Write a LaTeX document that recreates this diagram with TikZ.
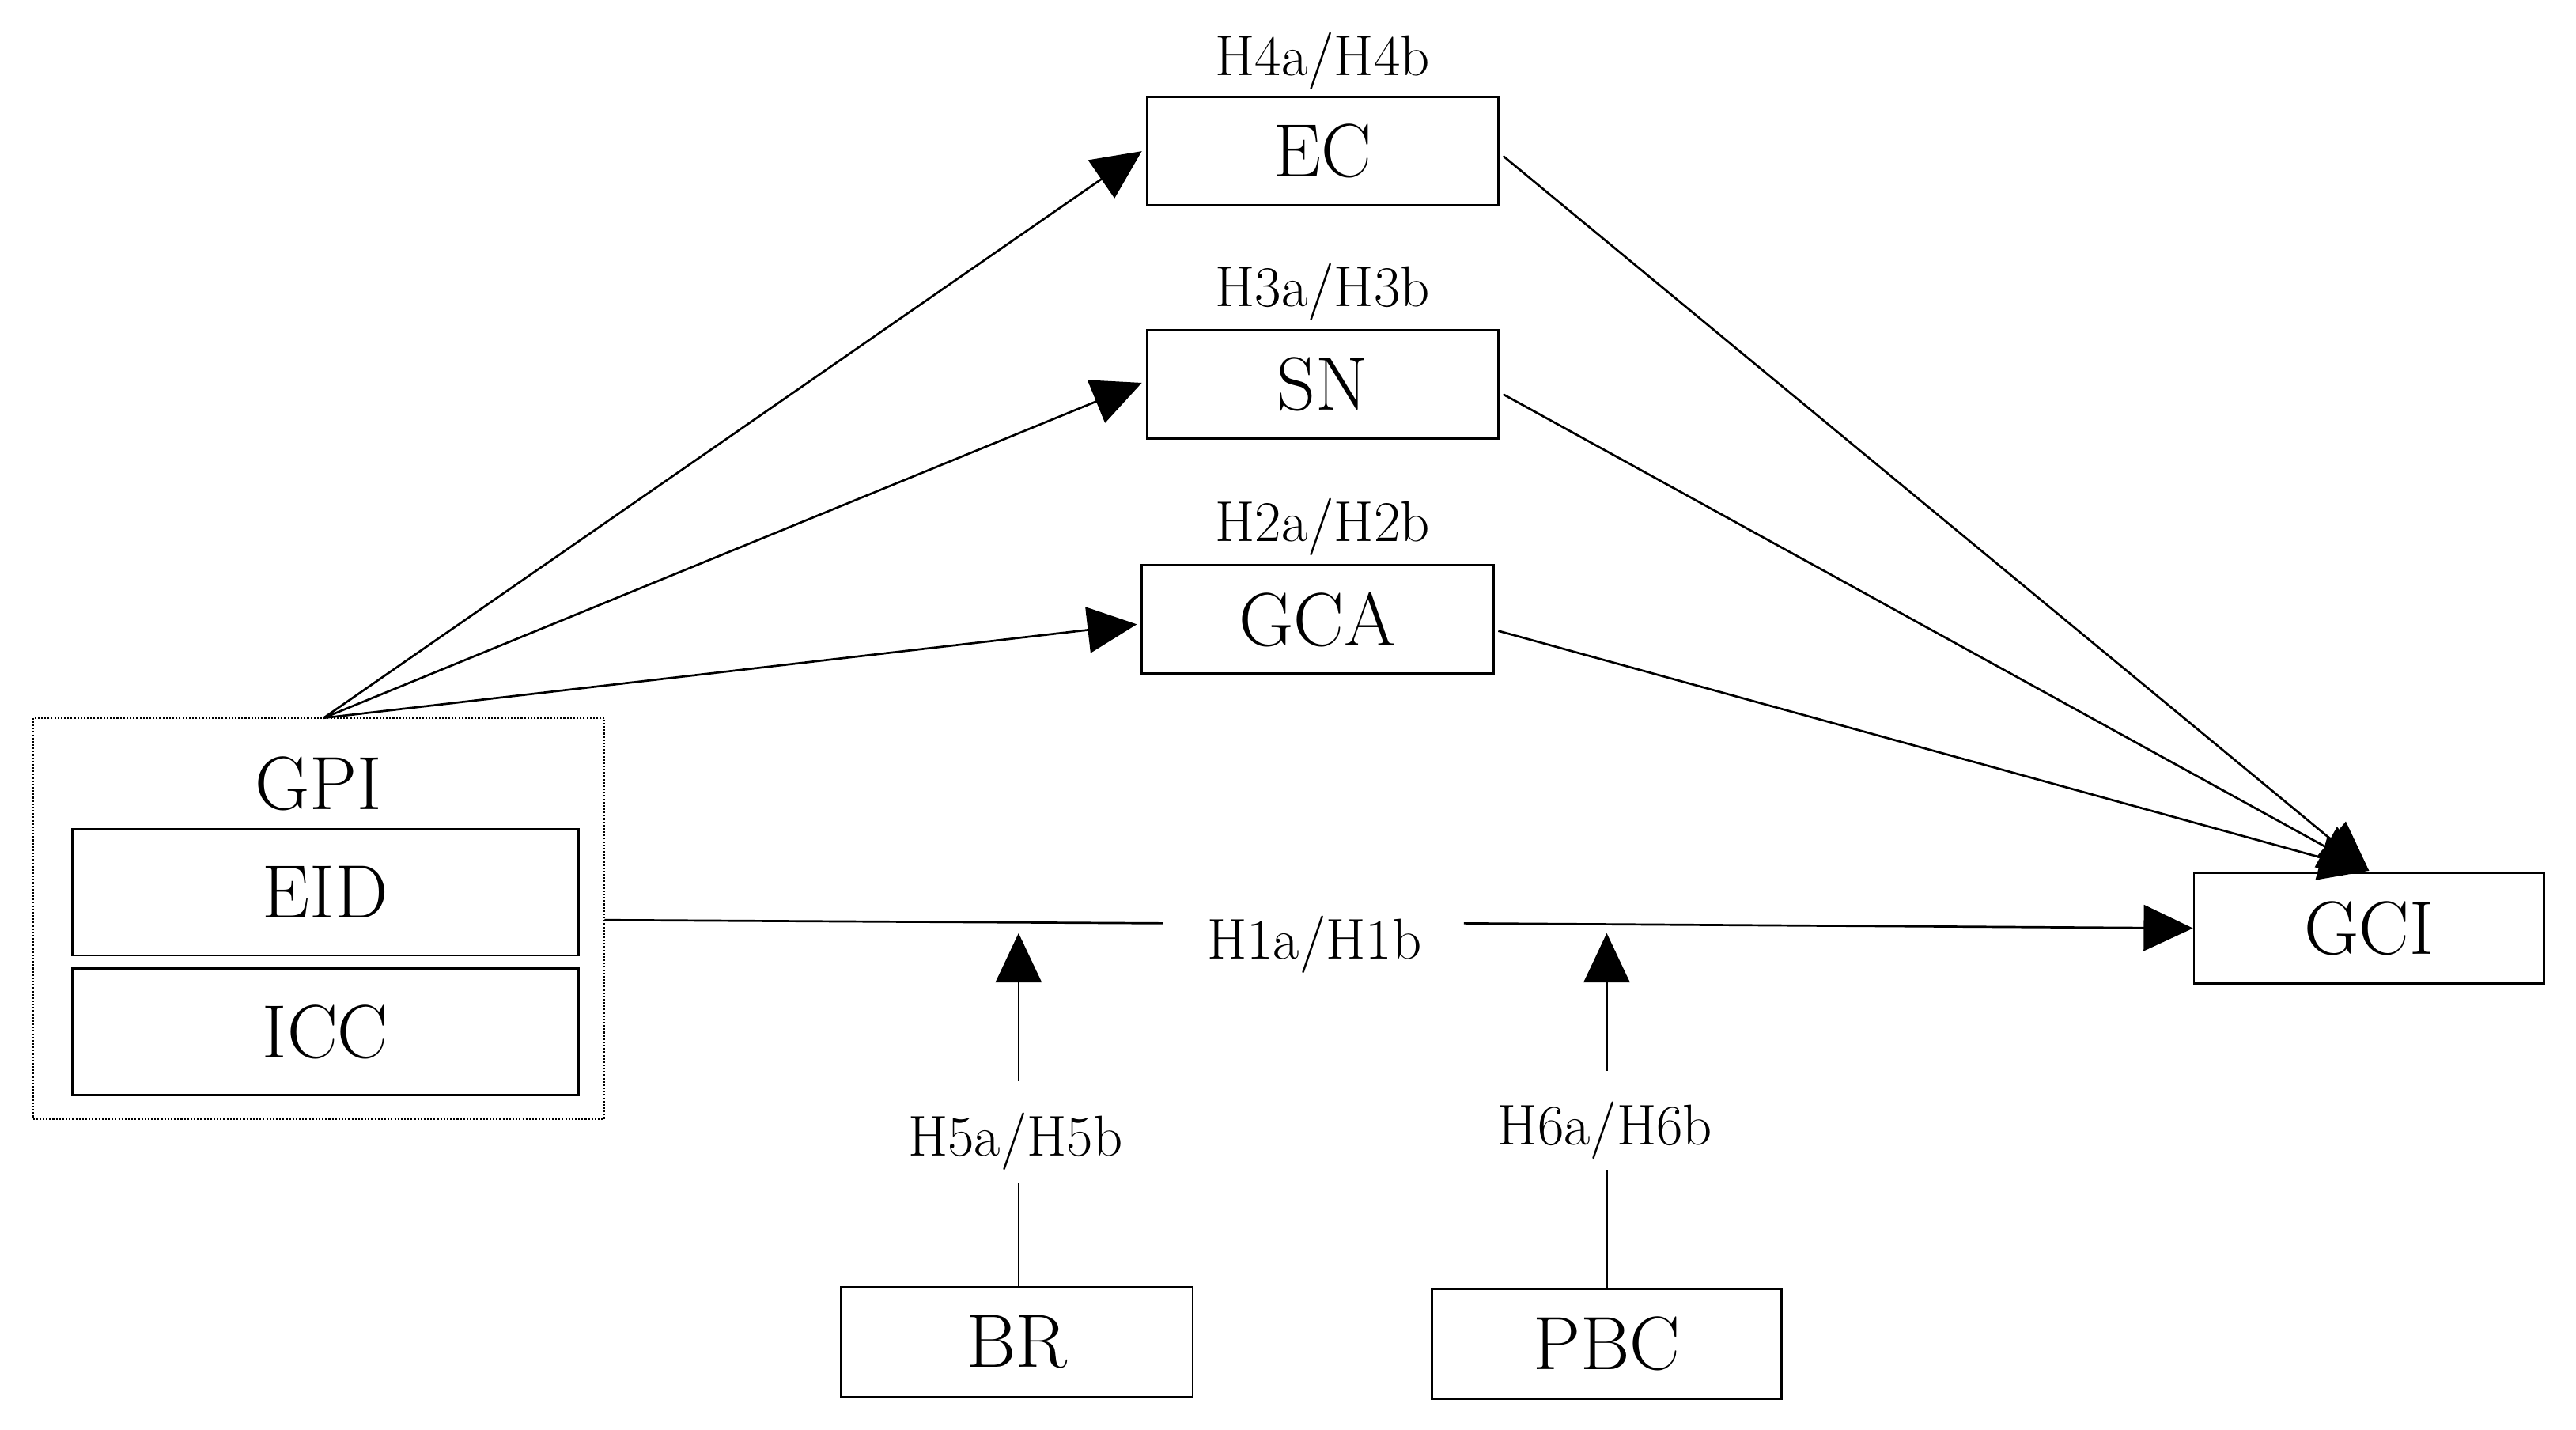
\documentclass[tikz,border=0pt]{standalone}
\usetikzlibrary{arrows.meta}
\begin{document}
\begin{tikzpicture}[x=1pt,y=-1pt,
 box/.style={draw,line width=1.3pt,minimum width=214pt,minimum height=66pt,inner sep=0pt,font=\fontsize{46}{50}\selectfont},
 lab/.style={fill=white,inner sep=3pt,font=\fontsize{35}{38}\selectfont},
 arr/.style={line width=1.3pt,-{Triangle[length=30pt,width=28pt]}},
 ln/.style={line width=1.3pt}]
\useasboundingbox (0,0) rectangle (1568,870);
\node[box] (EC) at (805,92) {EC};
\node[box] (SN) at (805,234) {SN};
\node[box] (GCA) at (802,377) {GCA};
\node[lab] (l4) at (805,37) {H4a/H4b};
\node[lab] (l3) at (805,178) {H3a/H3b};
\node[lab] (l2) at (805,321) {H2a/H2b};
\node[draw,densely dotted,line width=1pt,minimum width=348pt,minimum height=244pt] (GPI) at (194,559) {};
\node[font=\fontsize{46}{50}\selectfont] (gpit) at (194,477) {GPI};
\node[box,minimum width=308pt,minimum height=77pt] (EID) at (198,543) {EID};
\node[box,minimum width=308pt,minimum height=77pt] (ICC) at (198,628) {ICC};
\node[box,minimum width=213pt,minimum height=67pt] (GCI) at (1442,565) {GCI};
\node[box,minimum height=67pt] (BR) at (619,817) {BR};
\node[box,minimum width=213pt,minimum height=67pt] (PBC) at (978,818) {PBC};
\coordinate (src) at (197,437);
\coordinate (tip) at (1442,530);
\draw[arr] (src) -- (695,92);
\draw[arr] (src) -- (695,233);
\draw[arr] (src) -- (692,380);
\draw[arr] (915,95) -- (tip);
\draw[arr] (915,240) -- (tip);
\draw[arr] (912,384) -- (tip);
\node[font=\fontsize{35}{38}\selectfont] (l1) at (800,575) {H1a/H1b};
\draw[ln] (368,560) -- (708,562);
\draw[arr] (891,562) -- (GCI.west);
\node[font=\fontsize{35}{38}\selectfont] (l5) at (618,695) {H5a/H5b};
\node[font=\fontsize{35}{38}\selectfont] (l6) at (977,688) {H6a/H6b};
\draw[arr] (620,658) -- (620,568);
\draw[arr] (978,652) -- (978,568);
\draw[ln] (BR.north) ++(1,0) -- (620,720);
\draw[ln] (PBC.north) -- (978,712);
\end{tikzpicture}
\end{document}
